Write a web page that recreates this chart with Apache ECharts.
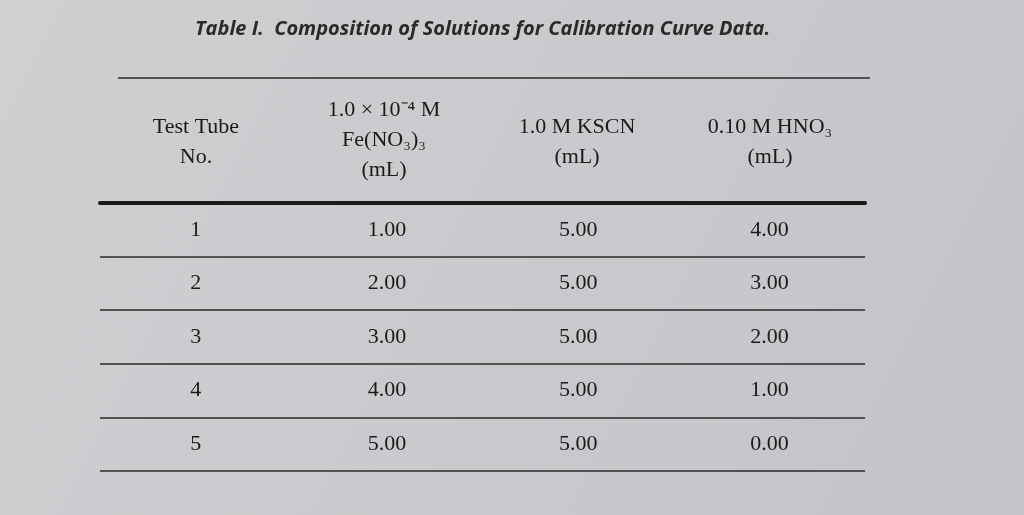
<!DOCTYPE html>
<html><head><meta charset="utf-8">
<script src="https://cdn.jsdelivr.net/npm/echarts@6/dist/echarts.min.js"></script>
<style>html,body{margin:0;padding:0}#c{width:1024px;height:515px}</style>
</head><body><div id="c"></div>
<script>
var columns = ['Test Tube No.', 'Fe(NO3)3 (mL)', 'KSCN (mL)', 'HNO3 (mL)'];
var tubes = ['1', '2', '3', '4', '5'];
var feVol = ['1.00', '2.00', '3.00', '4.00', '5.00'];
var kscnVol = ['5.00', '5.00', '5.00', '5.00', '5.00'];
var hno3Vol = ['4.00', '3.00', '2.00', '1.00', '0.00'];

var cols = [tubes, feVol, kscnVol, hno3Vol];
var cells = [];
cols.forEach(function (c, ci) {
  c.forEach(function (v, ri) { cells.push({value: [ci, ri], label: v}); });
});

var serif = 'Liberation Serif';
var ink = '#1a1a1a';
var myChart = echarts.init(document.getElementById('c'));
var option = {
  backgroundColor: new echarts.graphic.LinearGradient(0, 0, 1, 1, [
    {offset: 0, color: '#cfd0d2'}, {offset: 1, color: '#c3c4c7'}]),
  title: {
    text: 'Table I.  Composition of Solutions for Calibration Curve Data.',
    left: 190, top: 14,
    textStyle: {fontFamily: 'Open Sans', fontStyle: 'italic', fontWeight: 'bold', fontSize: 20, color: '#2a2a2a'}
  },
  grid: {left: 100, right: 159, top: 203, bottom: 44},
  xAxis: {
    type: 'category', data: columns, position: 'top',
    axisLine: {show: true, lineStyle: {color: '#1a1a1a', width: 4}},
    axisTick: {show: false}, axisLabel: {show: false}, splitLine: {show: false}
  },
  yAxis: {
    type: 'category', data: tubes, inverse: true,
    axisLine: {show: false}, axisTick: {show: false}, axisLabel: {show: false},
    splitLine: {show: true, lineStyle: {color: '#2a2a2a', width: 1.5}}
  },
  series: [{
    type: 'scatter', symbolSize: 0, data: cells, itemStyle: {opacity: 1},
    label: {show: true, position: 'inside', formatter: function (p) { return p.data.label; },
      fontFamily: serif, fontSize: 22, color: ink, opacity: 1}
  }],
  graphic: [
    {type: 'line', shape: {x1: 118, y1: 78, x2: 870, y2: 78}, style: {stroke: '#2a2a2a', lineWidth: 1.5}},
    {type: 'text', x: 196, y: 142, style: {text: 'Test Tube\nNo.', align: 'center', verticalAlign: 'middle', font: '22px "Liberation Serif"', fill: ink, lineHeight: 30}},
    {type: 'text', x: 384, y: 140, style: {text: '1.0 × 10⁻⁴ M\nFe(NO₃)₃\n(mL)', align: 'center', verticalAlign: 'middle', font: '22px "Liberation Serif"', fill: ink, lineHeight: 30}},
    {type: 'text', x: 577, y: 142, style: {text: '1.0 M KSCN\n(mL)', align: 'center', verticalAlign: 'middle', font: '22px "Liberation Serif"', fill: ink, lineHeight: 30}},
    {type: 'text', x: 770, y: 142, style: {text: '0.10 M HNO₃\n(mL)', align: 'center', verticalAlign: 'middle', font: '22px "Liberation Serif"', fill: ink, lineHeight: 30}}
  ]
};
myChart.setOption(option);
</script></body></html>
